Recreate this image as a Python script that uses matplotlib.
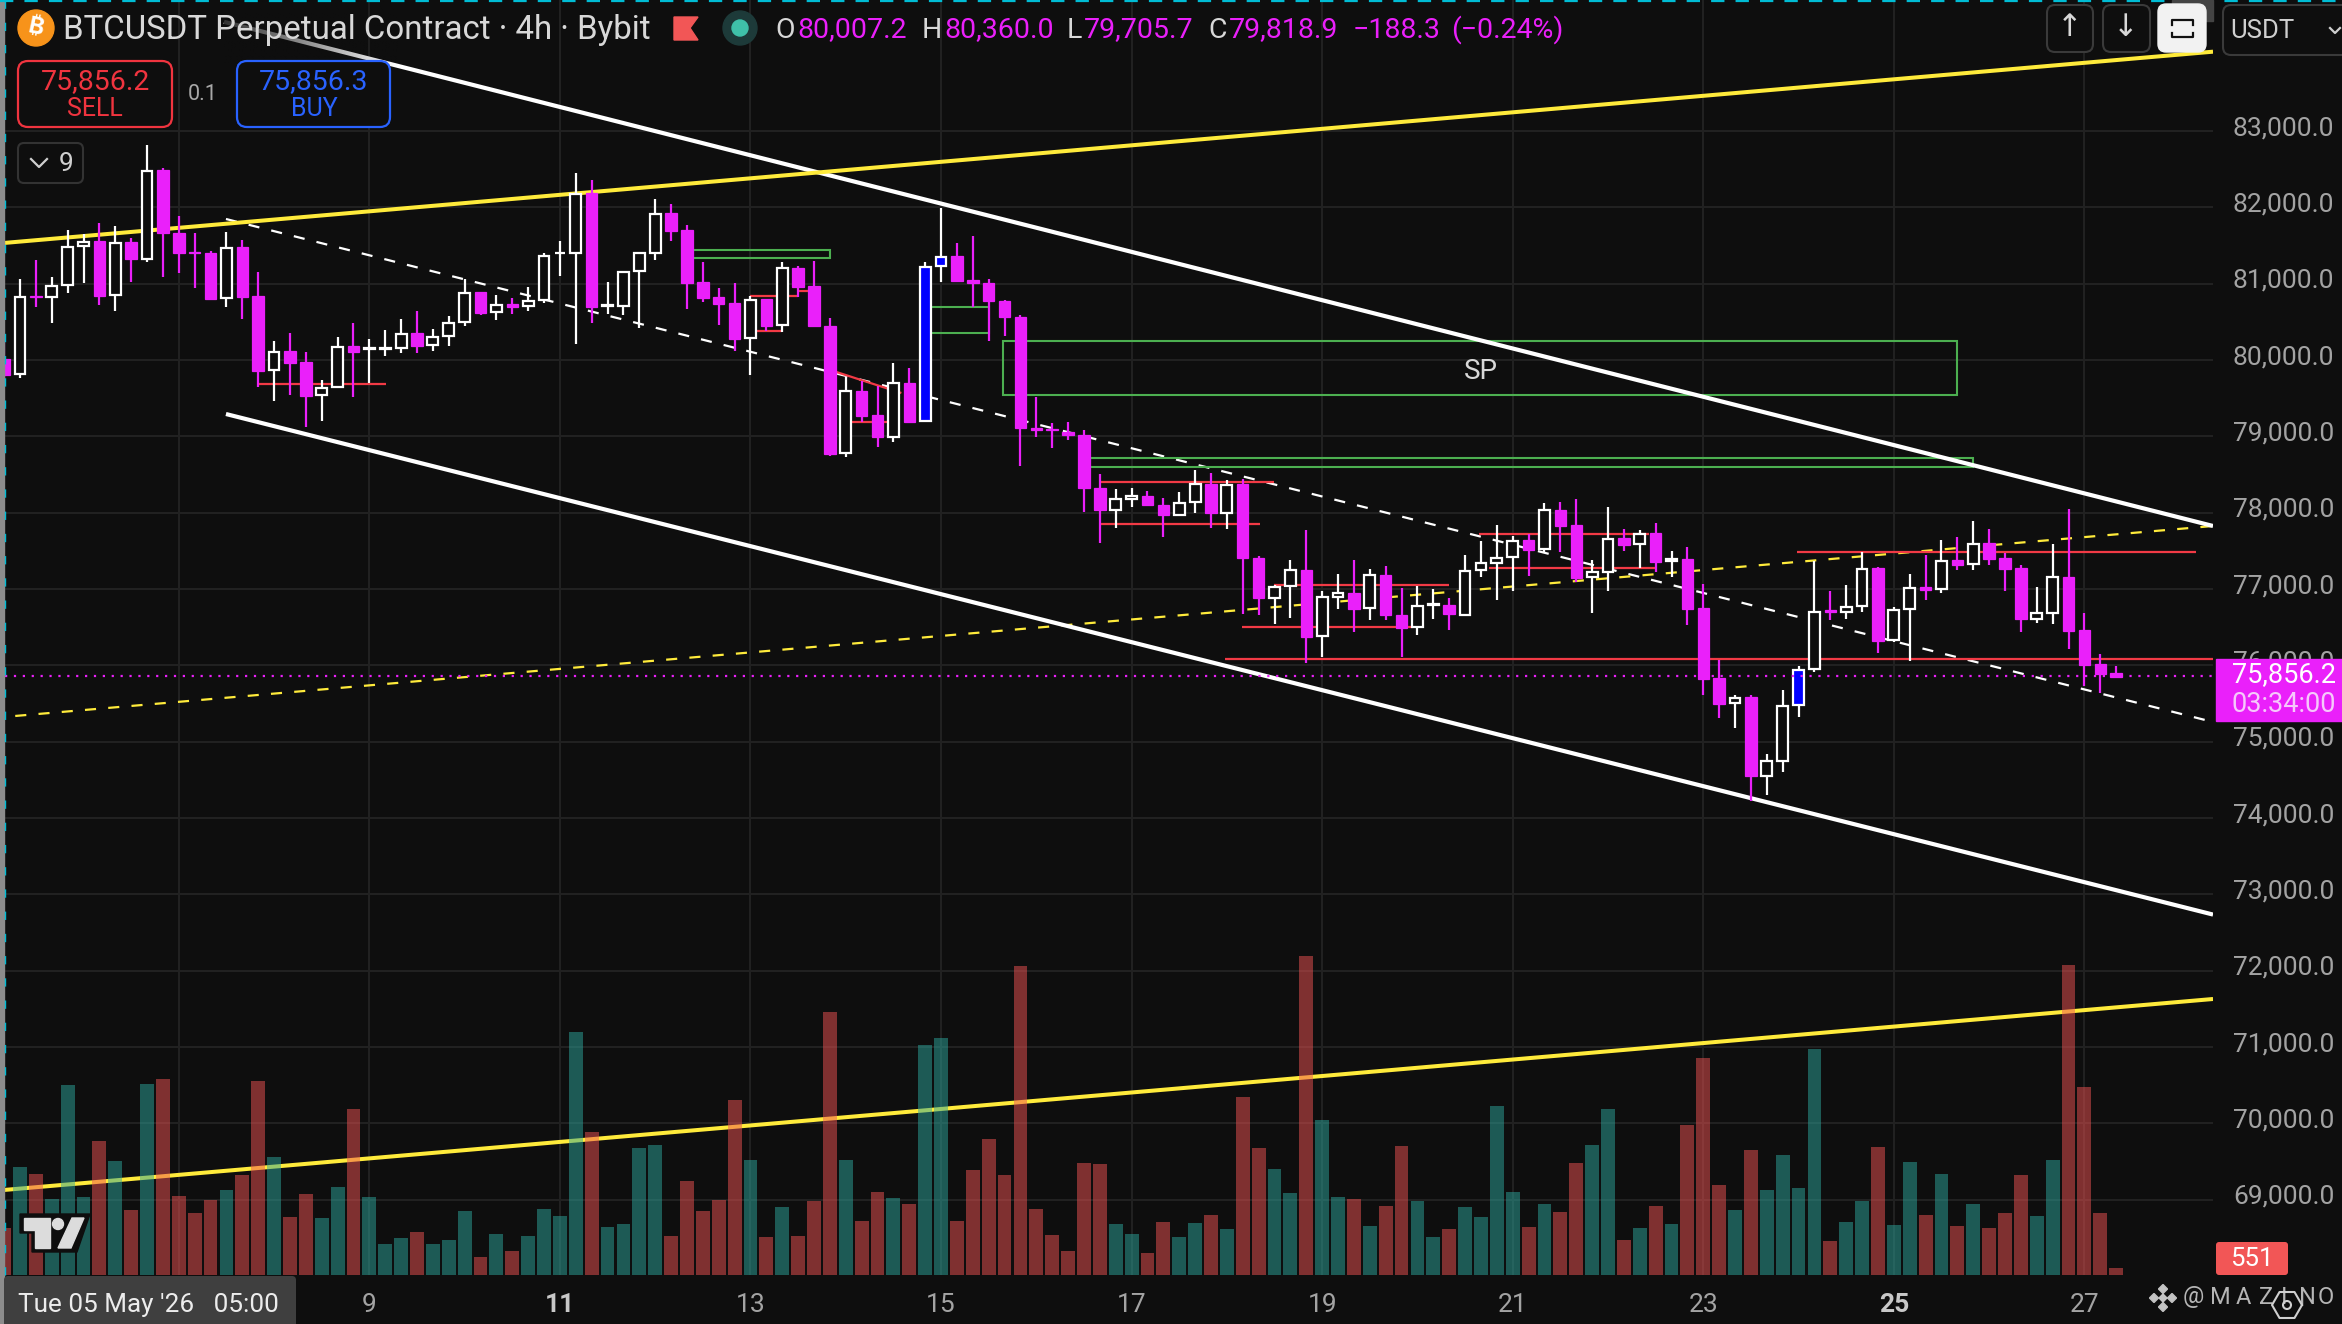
import numpy as np
import matplotlib
matplotlib.use("Agg")
import matplotlib.pyplot as plt
from matplotlib.patches import Rectangle, FancyBboxPatch, Circle, Polygon

plt.rcParams['font.family'] = ['Roboto', 'DejaVu Sans']

# Candle data, bar -1 is the half hidden one at the left edge #################
opens = [80010,79810,80840,80821,80978,81493,81559,80847,81546,81328,82489,81659,81419,81397,80812,81476,80838,79869,80118,79974,79537,79646,80183,80144,80148,80162,80349,80197,80314,80498,80886,80629,80733,80707,80786,81397,81397,82192,80707,80707,81166,81397,81921,81703,81017,80821,80742,80288,80795,80454,81202,80967,80444,78778,79594,79284,78997,79698,79197,81228,81359,81050,81006,80775,80566,79110,79097,79062,79018,78325,78037,78181,78220,78103,77972,78133,78378,77998,78369,77410,76887,77035,77253,76380,76895,76952,76747,77187,76664,76503,76795,76795,76664,77244,77345,77419,77637,77519,78037,77838,77152,77217,77663,77585,77729,77362,77388,76745,75832,75500,75583,74555,74752,75478,75945,76719,76693,76772,77270,76330,76732,77025,76999,77379,77322,77602,77405,77274,76610,76680,77156,76461,76015,75893]
closes = [79800,80830,80830,80974,81485,81550,80838,81537,81328,82480,81659,81406,81406,80799,81472,80830,79860,80109,79965,79533,79633,80175,80109,80153,80162,80341,80188,80301,80485,80878,80620,80720,80698,80777,81367,81406,82175,80690,80716,81157,81397,81913,81694,81013,80817,80738,80279,80786,80445,81210,80958,80439,78770,79589,79271,78988,79694,79193,81220,81355,81037,81002,80766,80557,79106,79079,79079,79014,78321,78033,78173,78220,78094,77968,78120,78369,77994,78356,77405,76882,77026,77244,76372,76895,76947,76738,77183,76655,76495,76778,76808,76677,77235,77340,77401,77628,77515,78033,77824,77148,77217,77659,77576,77720,77357,77388,76741,75823,75495,75574,74551,74748,75469,75937,76702,76702,76767,77266,76321,76728,77016,76990,77370,77318,77593,77392,77261,76605,76680,77152,76452,76002,75888,75850]
highs = [80300,81057,81310,81083,81703,81646,81790,81755,81598,82817,82511,81886,81659,81432,81672,81572,81148,80249,80349,80105,79738,80297,80480,80271,80393,80537,80642,80402,80576,81057,80895,80847,80808,80952,81397,81559,82445,82358,81017,81157,81419,82105,82044,81764,81284,80939,81004,80838,80800,81279,81233,81298,80548,79773,79729,79664,79960,79895,81285,81996,81529,81625,81058,80784,80588,79520,79175,79188,79084,78500,78312,78325,78277,78194,78273,78561,78521,78430,78443,77432,77048,77375,77767,76974,77192,77375,77257,77297,77017,77040,77004,76887,77440,77623,77833,77689,77725,78129,78138,78179,77379,78070,77786,77773,77860,77497,77545,77064,76068,75617,75609,74835,75674,75989,77370,76973,77051,77480,77283,76758,77191,77445,77642,77677,77891,77786,77467,77309,77025,77589,78048,76680,76146,75989]
lows = [79720,79760,80690,80480,80882,81004,80720,80646,81022,81288,81092,81135,80939,80786,80690,80541,79642,79467,79541,79127,79205,79642,79511,79694,80057,80096,80096,80122,80188,80450,80590,80524,80603,80646,80751,81100,80210,80489,80603,80590,80415,81310,81563,80672,80764,80459,80122,79803,80384,80371,80827,80435,78748,78726,79184,78857,78922,79184,79184,81015,81015,80697,80252,80309,78609,78997,78844,78957,78007,77602,77798,78072,78081,77680,77963,77994,77798,77780,76677,76656,76547,76625,76030,76110,76743,76438,76590,76590,76110,76395,76612,76460,76647,77157,76860,76974,77170,77476,77484,77086,76689,76977,77502,77279,77226,77161,76527,75609,75311,75180,74219,74297,74603,75325,75906,76592,76605,76702,76155,76300,76059,76855,76951,77248,77248,77314,76973,76439,76557,76540,76212,75727,75631,75836]
volumes = [3640,8400,7880,5900,14820,6080,10450,8870,5070,14900,15260,6160,4810,5850,6630,7800,15130,9180,4500,6320,4420,6860,12950,6080,2420,2860,3330,2420,2730,4990,1400,3200,1870,3040,5150,4600,18950,11150,3740,3980,9910,10140,3040,7330,4990,5850,13650,8970,2960,5300,3040,5770,20510,8970,4210,6470,6010,5540,17940,18490,4210,8190,10610,7800,24100,5150,3120,1870,8740,8660,3980,3200,1720,4130,2960,4060,4680,3590,13880,9910,8270,6400,24880,12090,6080,5930,3820,5380,10060,5770,2960,3590,5300,4520,13180,6470,3740,5540,4910,8740,10140,12950,2730,3670,5380,3980,11700,16930,7020,5070,9750,6630,9360,6790,17630,2650,4130,5770,9980,3900,8810,4680,7880,3820,5540,3670,4840,7800,4600,8970,24180,14660,4840,551]
first_bar = -1
blue_bars = [57, 58, 112]

price_ticks = list(range(69000, 84000, 1000))
date_ticks = [10, 22, 34, 46, 58, 70, 82, 94, 106, 118, 130]
date_labels = ['', '9', '11', '13', '15', '17', '19', '21', '23', '25', '27'] # the 7 sits under the date tag
bold_dates = ['11', '25']
last_price = 75856.2

# Drawn objects, [bar, price] ends ############################################
white_lines = [([12.85, 138.1], [84430, 77825]), ([12.97, 138.1], [79292, 72734])]
yellow_lines = [([-1, 138.1], [81533, 84039]), ([-1, 138.1], [69126, 71628])]
white_dashed = ([12.97, 138.1], [81847, 75257])
yellow_dashed = ([-0.3, 138.1], [75336, 77825])
red_segments = [([15.05, 23.05], [79685, 79685]), ([45.97, 49], [80838, 80838]), ([49, 49.9], [80904, 80904]),
                ([46.3, 48], [80380, 80380]), ([51.4, 55.5], [79843, 79567]), ([52.3, 54.6], [79192, 79192]),
                ([67.95, 78.97], [78405, 78405]), ([67.95, 78.1], [77856, 77856]), ([78.97, 90], [77052, 77052]),
                ([76.95, 87.7], [76506, 76506]), ([91.9, 102.6], [77720, 77720]), ([92.5, 103], [77279, 77279]),
                ([111.9, 137], [77485, 77485]), ([75.9, 138.1], [76087, 76087])]
green_boxes = [(42.4, 51, 81336, 81441), (57, 61, 80358, 80698), (61.9, 122, 79541, 80249), (67.4, 123, 78602, 78720)]

BG = '#0e0e0e'
GRID = '#222222'
MAGENTA = '#ea20fa'
RED = '#f23a45'
GREEN = '#4caf50'
YELLOW = '#ffeb3b'
LABEL = '#a3a3a3'

fig = plt.figure(figsize=(23.42, 13.24), dpi=100, facecolor=BG)

# Main price pane ##############################################################
ax = fig.add_axes([5/2342, 49/1324, 2208/2342, 1275/1324], facecolor=BG)
ax.set_xlim((5-20)/15.88, (2213-20)/15.88)
ax.set_ylim(68012, 84716)
for s in ax.spines.values():
	s.set_visible(False)
ax.yaxis.tick_right()
ax.set_yticks(price_ticks)
ax.set_yticklabels([])
for p in price_ticks: # as texts, they sit a little above their grid line
	ax.text(1 + 20/2208, p + 35, f'{p:,.1f}', transform=ax.get_yaxis_transform(), fontsize=19, color=LABEL, va='center', clip_on=False)
ax.set_xticks(date_ticks)
ax.set_xticklabels(date_labels, fontsize=19, color=LABEL)
for lab in ax.get_xticklabels():
	if lab.get_text() in bold_dates:
		lab.set_fontweight('bold')
		lab.set_color('#c8c8c8')
ax.tick_params(axis='both', length=0)
ax.tick_params(axis='x', pad=13)
ax.grid(True, color=GRID, lw=1.4)
ax.set_axisbelow(True)

for x, y in white_lines:
	ax.plot(x, y, color='white', lw=3, zorder=3, solid_capstyle='butt')
for x, y in yellow_lines:
	ax.plot(x, y, color=YELLOW, lw=2.9, zorder=3, solid_capstyle='butt')
ax.plot(*white_dashed, color='white', lw=1.6, ls=(0, (5, 5.5)), zorder=2)
ax.plot(*yellow_dashed, color=YELLOW, lw=1.6, ls=(0, (5, 5.5)), zorder=2)
for x, y in red_segments:
	ax.plot(x, y, color=RED, lw=1.6, zorder=2.5, solid_capstyle='butt')
for x0, x1, y0, y1 in green_boxes:
	ax.add_patch(Rectangle((x0, y0), x1-x0, y1-y0, fill=False, edgecolor=GREEN, lw=1.5, zorder=2.5))
ax.axhline(last_price, color=MAGENTA, lw=1.6, ls=(0, (1, 3)), zorder=6)

# Candles
for i in range(len(opens)):
	n = first_bar + i
	up = closes[i] >= opens[i]
	wick = 'white' if up else MAGENTA
	ax.vlines(n, lows[i], highs[i], color=wick, lw=1.6, zorder=4)
	bottom = min(opens[i], closes[i])
	height = abs(closes[i] - opens[i])
	if up:
		face = '#0000ff' if n in blue_bars else BG
		ax.bar(n, height, bottom=bottom, width=0.68, color=face, edgecolor='white', lw=1.6, zorder=5)
	else:
		ax.bar(n, height, bottom=bottom, width=0.72, color=MAGENTA, edgecolor=MAGENTA, lw=0.9, zorder=5)

ax.text(92, 79845, 'SP', color='#d8d8d8', fontsize=20, ha='center', va='center', zorder=7)

# Volume bars, on top of the yellow line #######################################
vol = fig.add_axes(ax.get_position(), facecolor='none', sharex=ax)
vol.set_ylim(0, 99450)
vol.axis('off')
bars = np.arange(len(volumes)) + first_bar
vcolors = ['#2ca69c' if c >= o else '#f05252' for o, c in zip(opens, closes)]
vol.bar(bars, volumes, width=0.87, color=vcolors, alpha=0.5, linewidth=0)

# Screen furniture in pixel coordinates ########################################
ui = fig.add_axes([0, 0, 1, 1], facecolor='none')
ui.axis('off')

# header fades what is behind it
fade = np.zeros((1, 64, 4))
fade[..., :3] = matplotlib.colors.to_rgb(BG)
fade[..., 3] = np.linspace(0.85, 0, 64)
ui.imshow(fade, extent=(224, 400, 66, 0), aspect='auto', zorder=1)
ui.set_xlim(0, 2342)
ui.set_ylim(1324, 0)

ui.add_patch(Rectangle((0, 0), 4, 1324, color='#8c8c8c', zorder=2))
ui.plot([0, 2342], [1, 1], color='#00bcd4', lw=1.6, ls=(0, (6, 5)), zorder=2)
ui.plot([5, 5], [0, 1276], color='#00bcd4', lw=1, ls=(0, (6, 10)), zorder=2)

# title and legend
ui.add_patch(Circle((36, 28), 18, color='#f7931a', zorder=3))
ui.text(36, 28, '\u20bf', color='white', fontsize=17, fontweight='bold', family=['Inter', 'Noto Sans', 'Open Sans', 'Lato', 'DejaVu Sans'], ha='center', va='center', rotation=-12, zorder=4)
ui.text(63, 30, 'BTCUSDT Perpetual Contract \u00b7 4h \u00b7 Bybit', color='#d8d8d8', fontsize=23.8, va='center', zorder=4)
ui.add_patch(Polygon([(674, 17), (698, 17), (690, 28), (698, 40), (674, 40)], color='#f25656', zorder=3))
ui.add_patch(Circle((740, 28), 17, color='#1d3a39', zorder=3))
ui.add_patch(Circle((740, 28), 8, color='#3fc1a9', zorder=4))

ohlc = [(775, 'O', '#d8d8d8'), (797, '80,007.2', MAGENTA), (922, 'H', '#d8d8d8'), (944, '80,360.0', MAGENTA),
        (1067, 'L', '#d8d8d8'), (1084, '79,705.7', MAGENTA), (1208, 'C', '#d8d8d8'), (1229, '79,818.9', MAGENTA),
        (1353, '\u2212188.3', MAGENTA), (1451, '(\u22120.24%)', MAGENTA)]
for x, s, c in ohlc:
	ui.text(x, 30, s, color=c, fontsize=20.5, va='center', zorder=4)

# trade buttons
ui.add_patch(FancyBboxPatch((24, 67), 142, 54, boxstyle='round,pad=6,rounding_size=10', fc=BG, ec='#f0343f', lw=1.6, zorder=3))
ui.text(95, 82, '75,856.2', color='#f0343f', fontsize=20.5, ha='center', va='center', zorder=4)
ui.text(95, 109, 'SELL', color='#f0343f', fontsize=18, ha='center', va='center', zorder=4)
ui.text(203, 94, '0.1', color='#a8a8a8', fontsize=15.5, ha='center', va='center', zorder=4)
ui.add_patch(FancyBboxPatch((243, 67), 141, 54, boxstyle='round,pad=6,rounding_size=10', fc=BG, ec='#2962ff', lw=1.6, zorder=3))
ui.text(314, 82, '75,856.3', color='#2962ff', fontsize=20.5, ha='center', va='center', zorder=4)
ui.text(314, 109, 'BUY', color='#2962ff', fontsize=18, ha='center', va='center', zorder=4)

ui.add_patch(FancyBboxPatch((23, 148), 55, 30, boxstyle='round,pad=5,rounding_size=6', fc=BG, ec='#333333', lw=1.5, zorder=3))
ui.plot([31, 39, 47], [159, 167, 159], color='#cfcfcf', lw=1.6, zorder=4)
ui.text(66, 164, '9', color='#cfcfcf', fontsize=19, ha='center', va='center', zorder=4)

# top right buttons
ui.add_patch(Rectangle((2172, 0), 41, 21, color='#444444', zorder=3))
ui.add_patch(FancyBboxPatch((2053, 11), 34, 35, boxstyle='round,pad=6,rounding_size=8', fc=BG, ec='#3a3a3a', lw=1.5, zorder=4))
ui.add_patch(FancyBboxPatch((2109, 11), 35, 35, boxstyle='round,pad=6,rounding_size=8', fc=BG, ec='#3a3a3a', lw=1.5, zorder=4))
ui.add_patch(FancyBboxPatch((2164, 10), 36, 36, boxstyle='round,pad=6,rounding_size=8', fc='#f2f2f2', ec='#f2f2f2', lw=1, zorder=4))
ui.add_patch(FancyBboxPatch((2229, 11), 120, 38, boxstyle='round,pad=6,rounding_size=8', fc=BG, ec='#3a3a3a', lw=1.5, zorder=4))
ui.text(2070, 28, '\u2191', color='#d8d8d8', fontsize=22, family='DejaVu Sans', ha='center', va='center', zorder=5)
ui.text(2126, 28, '\u2193', color='#d8d8d8', fontsize=22, family='DejaVu Sans', ha='center', va='center', zorder=5)
ui.plot([2172, 2172, 2193, 2193], [25, 20, 20, 25], color='#111111', lw=1.6, zorder=5)
ui.plot([2172, 2172, 2193, 2193], [33, 37, 37, 33], color='#111111', lw=1.6, zorder=5)
ui.text(2230, 31, 'USDT', color='#cfcfcf', fontsize=18.5, va='center', zorder=5)
ui.plot([2330, 2335, 2340], [28, 33, 28], color='#cfcfcf', lw=1.6, zorder=5)

# price and volume tags
ui.add_patch(Rectangle((2216, 659), 126, 62, color=MAGENTA, zorder=3))
ui.text(2336, 675, f'{last_price:,.1f}', color='white', fontsize=19.5, ha='right', va='center', zorder=4)
ui.text(2336, 704, '03:34:00', color='#f6c8fb', fontsize=19.5, ha='right', va='center', zorder=4)
ui.add_patch(FancyBboxPatch((2218, 1244), 68, 29, boxstyle='round,pad=2,rounding_size=3', fc='#f25656', ec='none', zorder=3))
ui.text(2252, 1259, '551', color='white', fontsize=18.5, ha='center', va='center', zorder=4)

# date tag
ui.add_patch(FancyBboxPatch((6, 1278), 288, 50, boxstyle='round,pad=2,rounding_size=4', fc='#3f3f3f', ec='none', zorder=3))
ui.text(18, 1305, "Tue 05 May '26   05:00", color='#ececec', fontsize=18.8, va='center', zorder=4)

# tradingview mark
ui.add_patch(Polygon([(20, 1214), (90, 1214), (77, 1252), (32, 1252), (32, 1233), (20, 1233)], color='#0e0e0e', zorder=3))
ui.add_patch(Polygon([(24, 1218), (50, 1218), (50, 1248), (35, 1248), (35, 1230), (24, 1230)], color='#dcdcdc', zorder=4))
ui.add_patch(Circle((58, 1224), 5.5, color='#dcdcdc', zorder=4))
ui.add_patch(Polygon([(72, 1218), (84, 1218), (71, 1248), (58, 1248)], color='#dcdcdc', zorder=4))

# watermark
for dx, dy in [(0, -9), (0, 9), (-9, 0), (9, 0)]:
	ui.add_patch(Polygon([(2163+dx, 1298+dy-4.5), (2163+dx+4.5, 1298+dy), (2163+dx, 1298+dy+4.5), (2163+dx-4.5, 1298+dy)], color='#c4c4c4', zorder=4))
ui.add_patch(Polygon([(2163, 1294), (2167, 1298), (2163, 1302), (2159, 1298)], color='#c4c4c4', zorder=4))
for x, s in zip([2183, 2210, 2236, 2259, 2281, 2299, 2318], ['@', 'M', 'A', 'Z', 'I', 'N', 'O']):
	ui.text(x, 1297, s, color='#b5b5b5', fontsize=17, va='center', zorder=4)
ang = np.deg2rad(np.arange(0, 361, 60))
ui.plot(2287 + 15*np.cos(ang), 1305 + 15*np.sin(ang), color='#d0d0d0', lw=1.5, zorder=5)
ui.add_patch(Circle((2287, 1305), 4, fill=False, ec='#d0d0d0', lw=1.5, zorder=5))

fig.savefig('out.png', dpi=100, facecolor=BG)
